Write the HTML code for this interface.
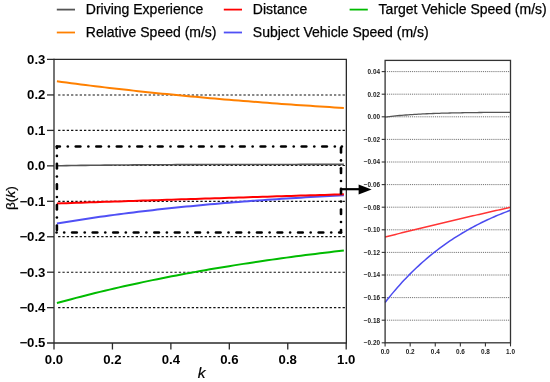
<!DOCTYPE html>
<html><head><meta charset="utf-8"><style>
html,body{margin:0;padding:0;background:#fff;}
svg{display:block;}
text{font-family:"Liberation Sans",Arial,sans-serif;fill:#000;}
.lg{font-size:14px;fill:#000;stroke:#000;stroke-width:0.25px;}
.mt{font-size:12.2px;font-weight:bold;}
.it{font-size:12.8px;font-weight:bold;fill:#1a1a1a;}
.ax{font-size:15.5px;stroke:#000;stroke-width:0.2px;}
.ax2{font-size:13.3px;stroke:#000;stroke-width:0.2px;}
</style></head><body>
<svg width="550" height="382" viewBox="0 0 550 382">
<rect width="550" height="382" fill="#fff"/>
<line x1="58.12" y1="94.95" x2="345.70" y2="94.95" stroke="#111" stroke-width="1.15" stroke-dasharray="2.3 2.01"/>
<line x1="58.12" y1="130.40" x2="345.70" y2="130.40" stroke="#111" stroke-width="1.15" stroke-dasharray="2.3 2.01"/>
<line x1="58.12" y1="165.50" x2="345.70" y2="165.50" stroke="#111" stroke-width="1.15" stroke-dasharray="2.3 2.01"/>
<line x1="58.12" y1="201.30" x2="345.70" y2="201.30" stroke="#111" stroke-width="1.15" stroke-dasharray="2.3 2.01"/>
<line x1="58.12" y1="236.55" x2="345.70" y2="236.55" stroke="#111" stroke-width="1.15" stroke-dasharray="2.3 2.01"/>
<line x1="58.12" y1="272.20" x2="345.70" y2="272.20" stroke="#111" stroke-width="1.15" stroke-dasharray="2.3 2.01"/>
<line x1="58.12" y1="307.65" x2="345.70" y2="307.65" stroke="#111" stroke-width="1.15" stroke-dasharray="2.3 2.01"/>
<path d="M56.92,81.30 L61.70,81.95 L66.49,82.58 L71.27,83.21 L76.05,83.83 L80.83,84.44 L85.62,85.04 L90.40,85.63 L95.18,86.22 L99.96,86.80 L104.75,87.37 L109.53,87.93 L114.31,88.48 L119.09,89.03 L123.87,89.57 L128.66,90.11 L133.44,90.63 L138.22,91.15 L143.00,91.66 L147.79,92.17 L152.57,92.67 L157.35,93.16 L162.13,93.65 L166.92,94.12 L171.70,94.60 L176.48,95.06 L181.26,95.52 L186.05,95.98 L190.83,96.42 L195.61,96.87 L200.39,97.30 L205.17,97.73 L209.96,98.16 L214.74,98.58 L219.52,98.99 L224.30,99.40 L229.09,99.80 L233.87,100.20 L238.65,100.59 L243.43,100.97 L248.22,101.35 L253.00,101.73 L257.78,102.10 L262.56,102.47 L267.34,102.83 L272.13,103.18 L276.91,103.54 L281.69,103.88 L286.47,104.23 L291.26,104.56 L296.04,104.90 L300.82,105.23 L305.60,105.55 L310.39,105.87 L315.17,106.19 L319.95,106.50 L324.73,106.80 L329.52,107.11 L334.30,107.41 L339.08,107.70 L343.86,107.99" fill="none" stroke="#ff8000" stroke-width="2"/>
<path d="M56.92,303.04 L61.70,301.73 L66.49,300.43 L71.27,299.16 L76.05,297.90 L80.83,296.66 L85.62,295.44 L90.40,294.24 L95.18,293.06 L99.96,291.89 L104.75,290.74 L109.53,289.61 L114.31,288.49 L119.09,287.39 L123.87,286.31 L128.66,285.25 L133.44,284.19 L138.22,283.16 L143.00,282.14 L147.79,281.13 L152.57,280.14 L157.35,279.17 L162.13,278.21 L166.92,277.26 L171.70,276.33 L176.48,275.41 L181.26,274.50 L186.05,273.61 L190.83,272.73 L195.61,271.86 L200.39,271.01 L205.17,270.17 L209.96,269.34 L214.74,268.52 L219.52,267.72 L224.30,266.93 L229.09,266.15 L233.87,265.38 L238.65,264.62 L243.43,263.87 L248.22,263.14 L253.00,262.41 L257.78,261.70 L262.56,261.00 L267.34,260.30 L272.13,259.62 L276.91,258.95 L281.69,258.28 L286.47,257.63 L291.26,256.99 L296.04,256.35 L300.82,255.73 L305.60,255.11 L310.39,254.51 L315.17,253.91 L319.95,253.32 L324.73,252.74 L329.52,252.17 L334.30,251.61 L339.08,251.06 L343.86,250.51" fill="none" stroke="#00bb00" stroke-width="2"/>
<path d="M56.92,223.59 L61.70,222.78 L66.49,221.99 L71.27,221.21 L76.05,220.44 L80.83,219.70 L85.62,218.97 L90.40,218.25 L95.18,217.55 L99.96,216.86 L104.75,216.18 L109.53,215.52 L114.31,214.87 L119.09,214.24 L123.87,213.62 L128.66,213.01 L133.44,212.41 L138.22,211.83 L143.00,211.26 L147.79,210.70 L152.57,210.15 L157.35,209.61 L162.13,209.08 L166.92,208.56 L171.70,208.06 L176.48,207.56 L181.26,207.07 L186.05,206.60 L190.83,206.13 L195.61,205.67 L200.39,205.23 L205.17,204.79 L209.96,204.36 L214.74,203.94 L219.52,203.52 L224.30,203.12 L229.09,202.72 L233.87,202.33 L238.65,201.95 L243.43,201.58 L248.22,201.22 L253.00,200.86 L257.78,200.51 L262.56,200.16 L267.34,199.83 L272.13,199.50 L276.91,199.17 L281.69,198.86 L286.47,198.55 L291.26,198.24 L296.04,197.95 L300.82,197.66 L305.60,197.37 L310.39,197.09 L315.17,196.82 L319.95,196.55 L324.73,196.28 L329.52,196.03 L334.30,195.77 L339.08,195.53 L343.86,195.28" fill="none" stroke="#5050f5" stroke-width="2"/>
<path d="M56.92,203.47 L61.70,203.31 L66.49,203.15 L71.27,202.98 L76.05,202.82 L80.83,202.66 L85.62,202.50 L90.40,202.34 L95.18,202.18 L99.96,202.02 L104.75,201.86 L109.53,201.71 L114.31,201.55 L119.09,201.39 L123.87,201.23 L128.66,201.07 L133.44,200.92 L138.22,200.76 L143.00,200.60 L147.79,200.45 L152.57,200.29 L157.35,200.14 L162.13,199.98 L166.92,199.83 L171.70,199.67 L176.48,199.52 L181.26,199.36 L186.05,199.21 L190.83,199.06 L195.61,198.90 L200.39,198.75 L205.17,198.60 L209.96,198.45 L214.74,198.30 L219.52,198.14 L224.30,197.99 L229.09,197.84 L233.87,197.69 L238.65,197.54 L243.43,197.39 L248.22,197.24 L253.00,197.09 L257.78,196.94 L262.56,196.80 L267.34,196.65 L272.13,196.50 L276.91,196.35 L281.69,196.20 L286.47,196.06 L291.26,195.91 L296.04,195.76 L300.82,195.62 L305.60,195.47 L310.39,195.33 L315.17,195.18 L319.95,195.04 L324.73,194.89 L329.52,194.75 L334.30,194.60 L339.08,194.46 L343.86,194.32" fill="none" stroke="#ff0000" stroke-width="2"/>
<path d="M56.92,165.79 L61.70,165.71 L66.49,165.63 L71.27,165.55 L76.05,165.48 L80.83,165.41 L85.62,165.35 L90.40,165.29 L95.18,165.24 L99.96,165.18 L104.75,165.13 L109.53,165.09 L114.31,165.05 L119.09,165.00 L123.87,164.97 L128.66,164.93 L133.44,164.90 L138.22,164.86 L143.00,164.83 L147.79,164.81 L152.57,164.78 L157.35,164.75 L162.13,164.73 L166.92,164.71 L171.70,164.69 L176.48,164.67 L181.26,164.65 L186.05,164.63 L190.83,164.62 L195.61,164.60 L200.39,164.59 L205.17,164.57 L209.96,164.56 L214.74,164.55 L219.52,164.54 L224.30,164.53 L229.09,164.52 L233.87,164.51 L238.65,164.50 L243.43,164.49 L248.22,164.48 L253.00,164.48 L257.78,164.47 L262.56,164.46 L267.34,164.46 L272.13,164.45 L276.91,164.45 L281.69,164.44 L286.47,164.44 L291.26,164.43 L296.04,164.43 L300.82,164.42 L305.60,164.42 L310.39,164.42 L315.17,164.41 L319.95,164.41 L324.73,164.41 L329.52,164.40 L334.30,164.40 L339.08,164.40 L343.86,164.40" fill="none" stroke="#555" stroke-width="1.6"/>
<line x1="47.00" y1="59.45" x2="347.00" y2="59.45" stroke="#2a2a2a" stroke-width="1.3"/>
<line x1="346.35" y1="59.45" x2="346.35" y2="343.00" stroke="#2a2a2a" stroke-width="1.3"/>
<line x1="47.00" y1="343.00" x2="347.00" y2="343.00" stroke="#2a2a2a" stroke-width="1.3"/>
<line x1="54.00" y1="58.80" x2="54.00" y2="349.50" stroke="#2a2a2a" stroke-width="1.3"/>
<line x1="47.00" y1="94.95" x2="54.00" y2="94.95" stroke="#2a2a2a" stroke-width="1.3"/>
<line x1="47.00" y1="130.40" x2="54.00" y2="130.40" stroke="#2a2a2a" stroke-width="1.3"/>
<line x1="47.00" y1="165.85" x2="54.00" y2="165.85" stroke="#2a2a2a" stroke-width="1.3"/>
<line x1="47.00" y1="201.30" x2="54.00" y2="201.30" stroke="#2a2a2a" stroke-width="1.3"/>
<line x1="47.00" y1="236.75" x2="54.00" y2="236.75" stroke="#2a2a2a" stroke-width="1.3"/>
<line x1="47.00" y1="272.20" x2="54.00" y2="272.20" stroke="#2a2a2a" stroke-width="1.3"/>
<line x1="47.00" y1="307.65" x2="54.00" y2="307.65" stroke="#2a2a2a" stroke-width="1.3"/>
<line x1="112.44" y1="343.00" x2="112.44" y2="349.50" stroke="#2a2a2a" stroke-width="1.3"/>
<line x1="170.88" y1="343.00" x2="170.88" y2="349.50" stroke="#2a2a2a" stroke-width="1.3"/>
<line x1="229.32" y1="343.00" x2="229.32" y2="349.50" stroke="#2a2a2a" stroke-width="1.3"/>
<line x1="287.76" y1="343.00" x2="287.76" y2="349.50" stroke="#2a2a2a" stroke-width="1.3"/>
<line x1="346.20" y1="343.00" x2="346.20" y2="349.50" stroke="#2a2a2a" stroke-width="1.3"/>
<text transform="translate(45.40,63.80) scale(1.08,1)" class="mt" text-anchor="end">0.3</text>
<text transform="translate(45.40,99.25) scale(1.08,1)" class="mt" text-anchor="end">0.2</text>
<text transform="translate(45.40,134.70) scale(1.08,1)" class="mt" text-anchor="end">0.1</text>
<text transform="translate(45.40,170.15) scale(1.08,1)" class="mt" text-anchor="end">0.0</text>
<text transform="translate(45.40,205.60) scale(1.08,1)" class="mt" text-anchor="end">−0.1</text>
<text transform="translate(45.40,241.05) scale(1.08,1)" class="mt" text-anchor="end">−0.2</text>
<text transform="translate(45.40,276.50) scale(1.08,1)" class="mt" text-anchor="end">−0.3</text>
<text transform="translate(45.40,311.95) scale(1.08,1)" class="mt" text-anchor="end">−0.4</text>
<text transform="translate(45.40,347.40) scale(1.08,1)" class="mt" text-anchor="end">−0.5</text>
<text transform="translate(54.00,363.80) scale(1.08,1)" class="mt" text-anchor="middle">0.0</text>
<text transform="translate(112.44,363.80) scale(1.08,1)" class="mt" text-anchor="middle">0.2</text>
<text transform="translate(170.88,363.80) scale(1.08,1)" class="mt" text-anchor="middle">0.4</text>
<text transform="translate(229.32,363.80) scale(1.08,1)" class="mt" text-anchor="middle">0.6</text>
<text transform="translate(287.76,363.80) scale(1.08,1)" class="mt" text-anchor="middle">0.8</text>
<text transform="translate(346.20,363.80) scale(1.08,1)" class="mt" text-anchor="middle">1.0</text>
<text transform="translate(201.50,377.50) scale(1,1)" class="ax" text-anchor="middle" font-style="italic">k</text>
<text transform="translate(14.5,198.2) rotate(-90) scale(1.03,1)" class="ax2" text-anchor="middle">β(<tspan font-style="italic">k</tspan>)</text>
<line x1="56.90" y1="146.50" x2="59.83" y2="146.50" stroke="#000" stroke-width="2.6" stroke-linecap="round"/>
<line x1="67.79" y1="146.50" x2="67.81" y2="146.50" stroke="#000" stroke-width="2.6" stroke-linecap="round"/>
<line x1="75.77" y1="146.50" x2="80.37" y2="146.50" stroke="#000" stroke-width="2.6" stroke-linecap="round"/>
<line x1="88.33" y1="146.50" x2="88.35" y2="146.50" stroke="#000" stroke-width="2.6" stroke-linecap="round"/>
<line x1="96.31" y1="146.50" x2="100.91" y2="146.50" stroke="#000" stroke-width="2.6" stroke-linecap="round"/>
<line x1="108.87" y1="146.50" x2="108.89" y2="146.50" stroke="#000" stroke-width="2.6" stroke-linecap="round"/>
<line x1="116.85" y1="146.50" x2="121.45" y2="146.50" stroke="#000" stroke-width="2.6" stroke-linecap="round"/>
<line x1="129.42" y1="146.50" x2="129.42" y2="146.50" stroke="#000" stroke-width="2.6" stroke-linecap="round"/>
<line x1="137.39" y1="146.50" x2="141.99" y2="146.50" stroke="#000" stroke-width="2.6" stroke-linecap="round"/>
<line x1="149.96" y1="146.50" x2="149.96" y2="146.50" stroke="#000" stroke-width="2.6" stroke-linecap="round"/>
<line x1="157.93" y1="146.50" x2="162.53" y2="146.50" stroke="#000" stroke-width="2.6" stroke-linecap="round"/>
<line x1="170.50" y1="146.50" x2="170.50" y2="146.50" stroke="#000" stroke-width="2.6" stroke-linecap="round"/>
<line x1="178.47" y1="146.50" x2="183.07" y2="146.50" stroke="#000" stroke-width="2.6" stroke-linecap="round"/>
<line x1="191.04" y1="146.50" x2="191.04" y2="146.50" stroke="#000" stroke-width="2.6" stroke-linecap="round"/>
<line x1="199.01" y1="146.50" x2="203.61" y2="146.50" stroke="#000" stroke-width="2.6" stroke-linecap="round"/>
<line x1="211.58" y1="146.50" x2="211.58" y2="146.50" stroke="#000" stroke-width="2.6" stroke-linecap="round"/>
<line x1="219.55" y1="146.50" x2="224.15" y2="146.50" stroke="#000" stroke-width="2.6" stroke-linecap="round"/>
<line x1="232.12" y1="146.50" x2="232.12" y2="146.50" stroke="#000" stroke-width="2.6" stroke-linecap="round"/>
<line x1="240.09" y1="146.50" x2="244.69" y2="146.50" stroke="#000" stroke-width="2.6" stroke-linecap="round"/>
<line x1="252.66" y1="146.50" x2="252.66" y2="146.50" stroke="#000" stroke-width="2.6" stroke-linecap="round"/>
<line x1="260.63" y1="146.50" x2="265.23" y2="146.50" stroke="#000" stroke-width="2.6" stroke-linecap="round"/>
<line x1="273.20" y1="146.50" x2="273.20" y2="146.50" stroke="#000" stroke-width="2.6" stroke-linecap="round"/>
<line x1="281.17" y1="146.50" x2="285.77" y2="146.50" stroke="#000" stroke-width="2.6" stroke-linecap="round"/>
<line x1="293.74" y1="146.50" x2="293.74" y2="146.50" stroke="#000" stroke-width="2.6" stroke-linecap="round"/>
<line x1="301.71" y1="146.50" x2="306.31" y2="146.50" stroke="#000" stroke-width="2.6" stroke-linecap="round"/>
<line x1="314.28" y1="146.50" x2="314.28" y2="146.50" stroke="#000" stroke-width="2.6" stroke-linecap="round"/>
<line x1="322.25" y1="146.50" x2="326.85" y2="146.50" stroke="#000" stroke-width="2.6" stroke-linecap="round"/>
<line x1="334.82" y1="146.50" x2="334.82" y2="146.50" stroke="#000" stroke-width="2.6" stroke-linecap="round"/>
<line x1="341.88" y1="146.50" x2="341.90" y2="146.50" stroke="#000" stroke-width="2.6" stroke-linecap="round"/>
<line x1="56.56" y1="232.50" x2="56.58" y2="232.50" stroke="#000" stroke-width="2.6" stroke-linecap="round"/>
<line x1="64.19" y1="232.50" x2="64.21" y2="232.50" stroke="#000" stroke-width="2.6" stroke-linecap="round"/>
<line x1="72.17" y1="232.50" x2="76.77" y2="232.50" stroke="#000" stroke-width="2.6" stroke-linecap="round"/>
<line x1="84.73" y1="232.50" x2="84.75" y2="232.50" stroke="#000" stroke-width="2.6" stroke-linecap="round"/>
<line x1="92.71" y1="232.50" x2="97.31" y2="232.50" stroke="#000" stroke-width="2.6" stroke-linecap="round"/>
<line x1="105.27" y1="232.50" x2="105.29" y2="232.50" stroke="#000" stroke-width="2.6" stroke-linecap="round"/>
<line x1="113.25" y1="232.50" x2="117.85" y2="232.50" stroke="#000" stroke-width="2.6" stroke-linecap="round"/>
<line x1="125.81" y1="232.50" x2="125.83" y2="232.50" stroke="#000" stroke-width="2.6" stroke-linecap="round"/>
<line x1="133.79" y1="232.50" x2="138.39" y2="232.50" stroke="#000" stroke-width="2.6" stroke-linecap="round"/>
<line x1="146.36" y1="232.50" x2="146.36" y2="232.50" stroke="#000" stroke-width="2.6" stroke-linecap="round"/>
<line x1="154.33" y1="232.50" x2="158.93" y2="232.50" stroke="#000" stroke-width="2.6" stroke-linecap="round"/>
<line x1="166.90" y1="232.50" x2="166.90" y2="232.50" stroke="#000" stroke-width="2.6" stroke-linecap="round"/>
<line x1="174.87" y1="232.50" x2="179.47" y2="232.50" stroke="#000" stroke-width="2.6" stroke-linecap="round"/>
<line x1="187.44" y1="232.50" x2="187.44" y2="232.50" stroke="#000" stroke-width="2.6" stroke-linecap="round"/>
<line x1="195.41" y1="232.50" x2="200.01" y2="232.50" stroke="#000" stroke-width="2.6" stroke-linecap="round"/>
<line x1="207.98" y1="232.50" x2="207.98" y2="232.50" stroke="#000" stroke-width="2.6" stroke-linecap="round"/>
<line x1="215.95" y1="232.50" x2="220.55" y2="232.50" stroke="#000" stroke-width="2.6" stroke-linecap="round"/>
<line x1="228.52" y1="232.50" x2="228.52" y2="232.50" stroke="#000" stroke-width="2.6" stroke-linecap="round"/>
<line x1="236.49" y1="232.50" x2="241.09" y2="232.50" stroke="#000" stroke-width="2.6" stroke-linecap="round"/>
<line x1="249.06" y1="232.50" x2="249.06" y2="232.50" stroke="#000" stroke-width="2.6" stroke-linecap="round"/>
<line x1="257.03" y1="232.50" x2="261.63" y2="232.50" stroke="#000" stroke-width="2.6" stroke-linecap="round"/>
<line x1="269.60" y1="232.50" x2="269.60" y2="232.50" stroke="#000" stroke-width="2.6" stroke-linecap="round"/>
<line x1="277.57" y1="232.50" x2="282.17" y2="232.50" stroke="#000" stroke-width="2.6" stroke-linecap="round"/>
<line x1="290.14" y1="232.50" x2="290.14" y2="232.50" stroke="#000" stroke-width="2.6" stroke-linecap="round"/>
<line x1="298.11" y1="232.50" x2="302.71" y2="232.50" stroke="#000" stroke-width="2.6" stroke-linecap="round"/>
<line x1="310.68" y1="232.50" x2="310.68" y2="232.50" stroke="#000" stroke-width="2.6" stroke-linecap="round"/>
<line x1="318.65" y1="232.50" x2="323.25" y2="232.50" stroke="#000" stroke-width="2.6" stroke-linecap="round"/>
<line x1="331.22" y1="232.50" x2="331.22" y2="232.50" stroke="#000" stroke-width="2.6" stroke-linecap="round"/>
<line x1="339.19" y1="232.50" x2="341.00" y2="232.50" stroke="#000" stroke-width="2.6" stroke-linecap="round"/>
<line x1="56.90" y1="146.50" x2="56.90" y2="147.93" stroke="#000" stroke-width="2.6" stroke-linecap="round"/>
<line x1="56.90" y1="155.90" x2="56.90" y2="155.90" stroke="#000" stroke-width="2.6" stroke-linecap="round"/>
<line x1="56.90" y1="163.87" x2="56.90" y2="168.47" stroke="#000" stroke-width="2.6" stroke-linecap="round"/>
<line x1="56.90" y1="176.44" x2="56.90" y2="176.44" stroke="#000" stroke-width="2.6" stroke-linecap="round"/>
<line x1="56.90" y1="184.41" x2="56.90" y2="189.01" stroke="#000" stroke-width="2.6" stroke-linecap="round"/>
<line x1="56.90" y1="196.98" x2="56.90" y2="196.98" stroke="#000" stroke-width="2.6" stroke-linecap="round"/>
<line x1="56.90" y1="204.95" x2="56.90" y2="209.55" stroke="#000" stroke-width="2.6" stroke-linecap="round"/>
<line x1="56.90" y1="217.52" x2="56.90" y2="217.52" stroke="#000" stroke-width="2.6" stroke-linecap="round"/>
<line x1="56.90" y1="225.49" x2="56.90" y2="230.09" stroke="#000" stroke-width="2.6" stroke-linecap="round"/>
<line x1="341.00" y1="147.83" x2="341.00" y2="152.43" stroke="#000" stroke-width="2.6" stroke-linecap="round"/>
<line x1="341.00" y1="160.40" x2="341.00" y2="160.40" stroke="#000" stroke-width="2.6" stroke-linecap="round"/>
<line x1="341.00" y1="168.37" x2="341.00" y2="172.97" stroke="#000" stroke-width="2.6" stroke-linecap="round"/>
<line x1="341.00" y1="180.94" x2="341.00" y2="180.94" stroke="#000" stroke-width="2.6" stroke-linecap="round"/>
<line x1="341.00" y1="188.91" x2="341.00" y2="193.51" stroke="#000" stroke-width="2.6" stroke-linecap="round"/>
<line x1="341.00" y1="201.48" x2="341.00" y2="201.48" stroke="#000" stroke-width="2.6" stroke-linecap="round"/>
<line x1="341.00" y1="209.45" x2="341.00" y2="214.05" stroke="#000" stroke-width="2.6" stroke-linecap="round"/>
<line x1="341.00" y1="222.02" x2="341.00" y2="222.02" stroke="#000" stroke-width="2.6" stroke-linecap="round"/>
<line x1="341.00" y1="229.99" x2="341.00" y2="232.50" stroke="#000" stroke-width="2.6" stroke-linecap="round"/>
<line x1="341.00" y1="189.2" x2="360" y2="189.2" stroke="#000" stroke-width="2.2"/>
<polygon points="358.6,184.4 371.6,189.5 358.6,194.6" fill="#000"/>
<line x1="385.10" y1="71.60" x2="510.50" y2="71.60" stroke="#666" stroke-width="0.95" stroke-dasharray="1 0.92"/>
<line x1="385.10" y1="94.20" x2="510.50" y2="94.20" stroke="#666" stroke-width="0.95" stroke-dasharray="1 0.92"/>
<line x1="385.10" y1="116.80" x2="510.50" y2="116.80" stroke="#666" stroke-width="0.95" stroke-dasharray="1 0.92"/>
<line x1="385.10" y1="139.40" x2="510.50" y2="139.40" stroke="#666" stroke-width="0.95" stroke-dasharray="1 0.92"/>
<line x1="385.10" y1="162.00" x2="510.50" y2="162.00" stroke="#666" stroke-width="0.95" stroke-dasharray="1 0.92"/>
<line x1="385.10" y1="184.60" x2="510.50" y2="184.60" stroke="#666" stroke-width="0.95" stroke-dasharray="1 0.92"/>
<line x1="385.10" y1="207.20" x2="510.50" y2="207.20" stroke="#666" stroke-width="0.95" stroke-dasharray="1 0.92"/>
<line x1="385.10" y1="229.80" x2="510.50" y2="229.80" stroke="#666" stroke-width="0.95" stroke-dasharray="1 0.92"/>
<line x1="385.10" y1="252.40" x2="510.50" y2="252.40" stroke="#666" stroke-width="0.95" stroke-dasharray="1 0.92"/>
<line x1="385.10" y1="275.00" x2="510.50" y2="275.00" stroke="#666" stroke-width="0.95" stroke-dasharray="1 0.92"/>
<line x1="385.10" y1="297.60" x2="510.50" y2="297.60" stroke="#666" stroke-width="0.95" stroke-dasharray="1 0.92"/>
<line x1="385.10" y1="320.20" x2="510.50" y2="320.20" stroke="#666" stroke-width="0.95" stroke-dasharray="1 0.92"/>
<path d="M385.10,117.14 L387.19,116.87 L389.28,116.61 L391.37,116.37 L393.46,116.13 L395.55,115.92 L397.64,115.71 L399.73,115.52 L401.82,115.33 L403.91,115.16 L406.00,114.99 L408.09,114.84 L410.18,114.69 L412.27,114.55 L414.36,114.42 L416.45,114.29 L418.54,114.17 L420.63,114.06 L422.72,113.95 L424.81,113.85 L426.90,113.76 L428.99,113.67 L431.08,113.58 L433.17,113.50 L435.26,113.43 L437.35,113.36 L439.44,113.29 L441.53,113.22 L443.62,113.16 L445.71,113.11 L447.80,113.05 L449.89,113.00 L451.98,112.95 L454.07,112.91 L456.16,112.86 L458.25,112.82 L460.34,112.78 L462.43,112.75 L464.52,112.71 L466.61,112.68 L468.70,112.65 L470.79,112.62 L472.88,112.59 L474.97,112.56 L477.06,112.54 L479.15,112.51 L481.24,112.49 L483.33,112.47 L485.42,112.45 L487.51,112.43 L489.60,112.41 L491.69,112.40 L493.78,112.38 L495.87,112.37 L497.96,112.35 L500.05,112.34 L502.14,112.32 L504.23,112.31 L506.32,112.30 L508.41,112.29 L510.50,112.28" fill="none" stroke="#555" stroke-width="1.3"/>
<path d="M385.10,237.03 L387.19,236.51 L389.28,235.98 L391.37,235.46 L393.46,234.93 L395.55,234.41 L397.64,233.89 L399.73,233.37 L401.82,232.85 L403.91,232.33 L406.00,231.82 L408.09,231.30 L410.18,230.79 L412.27,230.27 L414.36,229.76 L416.45,229.25 L418.54,228.74 L420.63,228.23 L422.72,227.72 L424.81,227.22 L426.90,226.71 L428.99,226.21 L431.08,225.70 L433.17,225.20 L435.26,224.70 L437.35,224.20 L439.44,223.70 L441.53,223.20 L443.62,222.70 L445.71,222.20 L447.80,221.71 L449.89,221.21 L451.98,220.72 L454.07,220.23 L456.16,219.74 L458.25,219.25 L460.34,218.76 L462.43,218.27 L464.52,217.78 L466.61,217.29 L468.70,216.81 L470.79,216.33 L472.88,215.84 L474.97,215.36 L477.06,214.88 L479.15,214.40 L481.24,213.92 L483.33,213.44 L485.42,212.96 L487.51,212.49 L489.60,212.01 L491.69,211.54 L493.78,211.06 L495.87,210.59 L497.96,210.12 L500.05,209.65 L502.14,209.18 L504.23,208.71 L506.32,208.24 L508.41,207.78 L510.50,207.31" fill="none" stroke="#ff3535" stroke-width="1.5"/>
<path d="M385.10,302.46 L387.19,299.79 L389.28,297.18 L391.37,294.63 L393.46,292.13 L395.55,289.67 L397.64,287.27 L399.73,284.92 L401.82,282.62 L403.91,280.36 L406.00,278.15 L408.09,275.99 L410.18,273.87 L412.27,271.80 L414.36,269.77 L416.45,267.77 L418.54,265.83 L420.63,263.92 L422.72,262.05 L424.81,260.21 L426.90,258.42 L428.99,256.66 L431.08,254.94 L433.17,253.26 L435.26,251.61 L437.35,249.99 L439.44,248.41 L441.53,246.86 L443.62,245.34 L445.71,243.86 L447.80,242.40 L449.89,240.97 L451.98,239.58 L454.07,238.21 L456.16,236.87 L458.25,235.56 L460.34,234.27 L462.43,233.01 L464.52,231.78 L466.61,230.57 L468.70,229.39 L470.79,228.23 L472.88,227.10 L474.97,225.99 L477.06,224.90 L479.15,223.83 L481.24,222.79 L483.33,221.77 L485.42,220.77 L487.51,219.79 L489.60,218.83 L491.69,217.89 L493.78,216.97 L495.87,216.06 L497.96,215.18 L500.05,214.32 L502.14,213.47 L504.23,212.64 L506.32,211.83 L508.41,211.03 L510.50,210.25" fill="none" stroke="#4b4bf0" stroke-width="1.5"/>
<rect x="385.10" y="60.40" width="125.40" height="282.40" fill="none" stroke="#333" stroke-width="1.3"/>
<line x1="381.70" y1="71.60" x2="385.10" y2="71.60" stroke="#333" stroke-width="1.1"/>
<text transform="translate(380.00,73.90) scale(0.5,0.5)" class="it" text-anchor="end">0.04</text>
<line x1="381.70" y1="94.20" x2="385.10" y2="94.20" stroke="#333" stroke-width="1.1"/>
<text transform="translate(380.00,96.50) scale(0.5,0.5)" class="it" text-anchor="end">0.02</text>
<line x1="381.70" y1="116.80" x2="385.10" y2="116.80" stroke="#333" stroke-width="1.1"/>
<text transform="translate(380.00,119.10) scale(0.5,0.5)" class="it" text-anchor="end">0.00</text>
<line x1="381.70" y1="139.40" x2="385.10" y2="139.40" stroke="#333" stroke-width="1.1"/>
<text transform="translate(380.00,141.70) scale(0.5,0.5)" class="it" text-anchor="end">−0.02</text>
<line x1="381.70" y1="162.00" x2="385.10" y2="162.00" stroke="#333" stroke-width="1.1"/>
<text transform="translate(380.00,164.30) scale(0.5,0.5)" class="it" text-anchor="end">−0.04</text>
<line x1="381.70" y1="184.60" x2="385.10" y2="184.60" stroke="#333" stroke-width="1.1"/>
<text transform="translate(380.00,186.90) scale(0.5,0.5)" class="it" text-anchor="end">−0.06</text>
<line x1="381.70" y1="207.20" x2="385.10" y2="207.20" stroke="#333" stroke-width="1.1"/>
<text transform="translate(380.00,209.50) scale(0.5,0.5)" class="it" text-anchor="end">−0.08</text>
<line x1="381.70" y1="229.80" x2="385.10" y2="229.80" stroke="#333" stroke-width="1.1"/>
<text transform="translate(380.00,232.10) scale(0.5,0.5)" class="it" text-anchor="end">−0.10</text>
<line x1="381.70" y1="252.40" x2="385.10" y2="252.40" stroke="#333" stroke-width="1.1"/>
<text transform="translate(380.00,254.70) scale(0.5,0.5)" class="it" text-anchor="end">−0.12</text>
<line x1="381.70" y1="275.00" x2="385.10" y2="275.00" stroke="#333" stroke-width="1.1"/>
<text transform="translate(380.00,277.30) scale(0.5,0.5)" class="it" text-anchor="end">−0.14</text>
<line x1="381.70" y1="297.60" x2="385.10" y2="297.60" stroke="#333" stroke-width="1.1"/>
<text transform="translate(380.00,299.90) scale(0.5,0.5)" class="it" text-anchor="end">−0.16</text>
<line x1="381.70" y1="320.20" x2="385.10" y2="320.20" stroke="#333" stroke-width="1.1"/>
<text transform="translate(380.00,322.50) scale(0.5,0.5)" class="it" text-anchor="end">−0.18</text>
<line x1="381.70" y1="342.80" x2="385.10" y2="342.80" stroke="#333" stroke-width="1.1"/>
<text transform="translate(380.00,345.10) scale(0.5,0.5)" class="it" text-anchor="end">−0.20</text>
<line x1="385.10" y1="342.80" x2="385.10" y2="346.40" stroke="#333" stroke-width="1.1"/>
<text transform="translate(385.10,353.60) scale(0.5,0.5)" class="it" text-anchor="middle">0.0</text>
<line x1="410.18" y1="342.80" x2="410.18" y2="346.40" stroke="#333" stroke-width="1.1"/>
<text transform="translate(410.18,353.60) scale(0.5,0.5)" class="it" text-anchor="middle">0.2</text>
<line x1="435.26" y1="342.80" x2="435.26" y2="346.40" stroke="#333" stroke-width="1.1"/>
<text transform="translate(435.26,353.60) scale(0.5,0.5)" class="it" text-anchor="middle">0.4</text>
<line x1="460.34" y1="342.80" x2="460.34" y2="346.40" stroke="#333" stroke-width="1.1"/>
<text transform="translate(460.34,353.60) scale(0.5,0.5)" class="it" text-anchor="middle">0.6</text>
<line x1="485.42" y1="342.80" x2="485.42" y2="346.40" stroke="#333" stroke-width="1.1"/>
<text transform="translate(485.42,353.60) scale(0.5,0.5)" class="it" text-anchor="middle">0.8</text>
<line x1="510.50" y1="342.80" x2="510.50" y2="346.40" stroke="#333" stroke-width="1.1"/>
<text transform="translate(510.50,353.60) scale(0.5,0.5)" class="it" text-anchor="middle">1.0</text>
<line x1="56.80" y1="9.60" x2="75.00" y2="9.60" stroke="#555" stroke-width="1.8"/>
<text transform="translate(85.80,14.10) scale(1,1)" class="lg" text-anchor="start">Driving Experience</text>
<line x1="223.80" y1="9.60" x2="242.00" y2="9.60" stroke="#ff0000" stroke-width="1.8"/>
<text transform="translate(252.80,14.10) scale(1,1)" class="lg" text-anchor="start">Distance</text>
<line x1="349.60" y1="9.60" x2="367.80" y2="9.60" stroke="#00bb00" stroke-width="1.8"/>
<text transform="translate(378.60,14.10) scale(1,1)" class="lg" text-anchor="start">Target Vehicle Speed (m/s)</text>
<line x1="56.80" y1="32.50" x2="75.00" y2="32.50" stroke="#ff8000" stroke-width="1.8"/>
<text transform="translate(85.80,37.00) scale(1,1)" class="lg" text-anchor="start">Relative Speed (m/s)</text>
<line x1="223.80" y1="32.50" x2="242.00" y2="32.50" stroke="#5050f5" stroke-width="1.8"/>
<text transform="translate(252.80,37.00) scale(1,1)" class="lg" text-anchor="start">Subject Vehicle Speed (m/s)</text>
</svg>
</body></html>
